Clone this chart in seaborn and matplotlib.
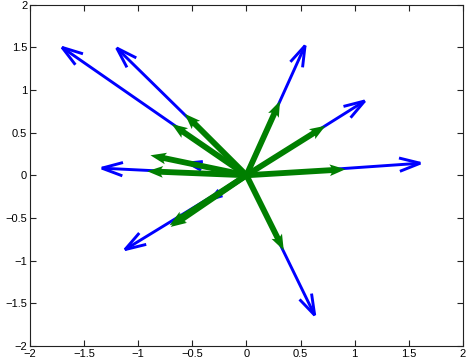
"""Blue/green vectors from the origin, MATLAB quiver style."""
import numpy as np
import matplotlib
matplotlib.use('Agg')
import matplotlib.pyplot as plt
import seaborn as sns
from matplotlib.patches import FancyArrowPatch

# tips of the long (blue) vectors
blue_u = [-1.74, -1.23, 0.56, 1.13, 1.65, 0.65, -1.16, -1.38, -0.58, -0.36]
blue_v = [1.53, 1.53, 1.57, 0.90, 0.145, -1.69, -0.90, 0.086, 0.155, -0.31]
# tips of the short (green) vectors
green_u = [-0.57, -0.69, 0.31, 0.73, 0.915, 0.345, -0.71, -0.70, -0.887, -0.917]
green_v = [0.72, 0.60, 0.87, 0.58, 0.07, -0.88, -0.586, -0.605, 0.234, 0.047]

xticks = [-2, -1.5, -1, -0.5, 0, 0.5, 1, 1.5, 2]
yticks = [-2, -1.5, -1, -0.5, 0, 0.5, 1, 1.5, 2]

sns.set_style('ticks', {'xtick.direction': 'in', 'ytick.direction': 'in',
                        'axes.edgecolor': '#222222'})
plt.rcParams['font.family'] = ['Liberation Sans', 'DejaVu Sans']
plt.rcParams['font.size'] = 8

fig = plt.figure(figsize=(4.67, 3.64), dpi=100)
ax = fig.add_axes([0.0642, 0.0495, 0.927, 0.938])

# blue: thin arrows with open V heads
for u, v in zip(blue_u, blue_v):
    k = min(1.0, np.hypot(u, v) / 0.9)  # short ones get a smaller head
    ax.add_patch(FancyArrowPatch(
        (0, 0), (u, v), transform=ax.transData,
        arrowstyle=f'->,head_length={15 * k},head_width={4.8 * k}',
        mutation_scale=1, color='#0000ff', lw=2.1,
        shrinkA=0, shrinkB=0, joinstyle='miter', capstyle='butt', zorder=2))

# green: thick arrows drawn on top
n = len(green_u)
ax.quiver(np.zeros(n), np.zeros(n), green_u, green_v,
          angles='xy', scale_units='xy', scale=1, color='#007f00',
          width=0.0135, headwidth=2.0, headlength=2.7, headaxislength=2.4,
          linewidth=0, zorder=3)

ax.set_xlim(-2, 2)
ax.set_ylim(-2, 2)
ax.set_xticks(xticks)
ax.set_yticks(yticks)
ax.set_xticklabels([f'{t:g}'.replace('-', '\u2212') for t in xticks])
ax.set_yticklabels([f'{t:g}'.replace('-', '\u2212') for t in yticks])
ax.tick_params(axis='both', which='both', direction='in', length=4,
               width=0.8, top=True, right=True, labelsize=8, pad=2,
               colors='#222222', labelcolor='black')
for s in ax.spines.values():
    s.set_linewidth(0.8)

fig.savefig('out.png', dpi=100)
